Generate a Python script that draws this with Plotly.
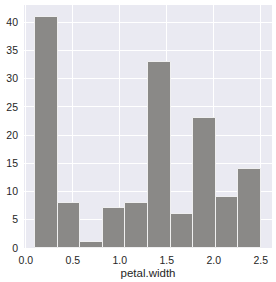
import plotly.graph_objects as go

bin_edges = [0.1, 0.34, 0.58, 0.82, 1.06, 1.3, 1.54, 1.78, 2.02, 2.26, 2.5]
counts = [41, 8, 1, 7, 8, 33, 6, 23, 9, 14]
x_ticks = [0.0, 0.5, 1.0, 1.5, 2.0, 2.5]
x_ticklabels = ["0.0", "0.5", "1.0", "1.5", "2.0", "2.5"]
y_ticks = [0, 5, 10, 15, 20, 25, 30, 35, 40]

centers = [(a + b) / 2 for a, b in zip(bin_edges[:-1], bin_edges[1:])]
widths = [b - a for a, b in zip(bin_edges[:-1], bin_edges[1:])]

fig = go.Figure(go.Bar(
    x=centers, y=counts, width=widths,
    marker=dict(color="#8a8987", line=dict(color="rgba(245,245,245,0.9)", width=1)),
))

fig.update_layout(
    width=276, height=282,
    margin=dict(l=24, r=4, t=5, b=34),
    paper_bgcolor="white",
    plot_bgcolor="#EAEAF2",
    font=dict(family="Liberation Sans, Arial", size=10.5, color="#262626"),
    showlegend=False,
    bargap=0,
)
fig.update_xaxes(
    range=[-0.02, 2.62], tickvals=x_ticks, ticktext=x_ticklabels,
    gridcolor="white", gridwidth=1, zeroline=False, showline=False,
    ticks="", ticklabelstandoff=4,
    title=dict(text="petal.width", standoff=4, font=dict(size=11.5)),
)
fig.update_yaxes(
    range=[0, 43.05], tickvals=y_ticks,
    gridcolor="white", gridwidth=1, zeroline=False, showline=False, ticks="",
    ticklabelstandoff=5,
)

fig.write_html("out.html")
